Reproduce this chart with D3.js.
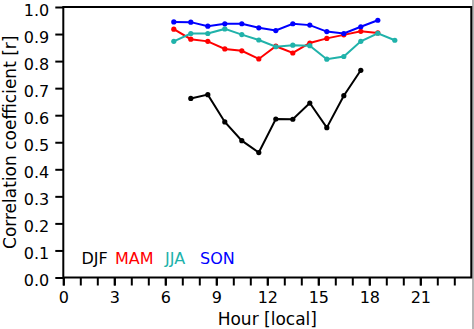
<!DOCTYPE html>
<html>
<head>
<meta charset="utf-8">
<script src="https://cdn.jsdelivr.net/npm/d3@7"></script>
<style>
  body { margin: 0; background: #fff; }
  text { font-family: "DejaVu Sans", sans-serif; }
</style>
</head>
<body>
<div class="vis-chart"></div>
<script>
// hours of day (local) for each season
const hoursDJF = [7.5, 8.5, 9.5, 10.5, 11.5, 12.5, 13.5, 14.5, 15.5, 16.5, 17.5];
const djf = [0.662, 0.676, 0.575, 0.506, 0.462, 0.586, 0.585, 0.645, 0.554, 0.672, 0.766];

const hoursMAM = [6.5, 7.5, 8.5, 9.5, 10.5, 11.5, 12.5, 13.5, 14.5, 15.5, 16.5, 17.5, 18.5];
const mam = [0.918, 0.881, 0.873, 0.845, 0.838, 0.808, 0.855, 0.830, 0.867, 0.884, 0.897, 0.910, 0.904];

const hoursJJA = [6.5, 7.5, 8.5, 9.5, 10.5, 11.5, 12.5, 13.5, 14.5, 15.5, 16.5, 17.5, 18.5, 19.5];
const jja = [0.873, 0.902, 0.902, 0.919, 0.898, 0.878, 0.853, 0.859, 0.857, 0.807, 0.817, 0.873, 0.903, 0.877];

const hoursSON = [6.5, 7.5, 8.5, 9.5, 10.5, 11.5, 12.5, 13.5, 14.5, 15.5, 16.5, 17.5, 18.5];
const son = [0.945, 0.944, 0.929, 0.938, 0.938, 0.923, 0.913, 0.938, 0.933, 0.909, 0.902, 0.927, 0.951];

const seasonNames = ["DJF", "MAM", "JJA", "SON"];
const seasonColors = ["#000000", "#ff0000", "#20b2aa", "#0000ff"];

const xTicks = [0, 3, 6, 9, 12, 15, 18, 21];
const yTicks = [0, 0.1, 0.2, 0.3, 0.4, 0.5, 0.6, 0.7, 0.8, 0.9, 1.0];

const width = 474, height = 329;
const margin = { top: 7, right: 2.7, bottom: 51.5, left: 63.3 };
const innerW = width - margin.left - margin.right;
const innerH = height - margin.top - margin.bottom;

const svg = d3.select(".vis-chart")
    .append("svg")
    .attr("width", width)
    .attr("height", height);

// thin grey strip at the right edge, as in the picture
svg.append("rect")
    .attr("x", width - 2).attr("y", 0)
    .attr("width", 2).attr("height", height)
    .attr("fill", "#b5b5b5");

const g = svg.append("g")
    .attr("transform", "translate(" + margin.left + "," + margin.top + ")");

const x = d3.scaleLinear().domain([0, 24]).range([0, innerW]);
const y = d3.scaleLinear().domain([0, 1]).range([innerH, 0]);

// minor hourly ticks
const xAxis = g.append("g")
    .attr("transform", "translate(0," + innerH + ")")
    .call(d3.axisBottom(x).tickValues(d3.range(0, 24)).tickSize(8).tickFormat(""));
xAxis.select(".domain").remove();
xAxis.selectAll("line").attr("stroke", "#000").attr("stroke-width", 2);

const xLabels = g.append("g")
    .attr("transform", "translate(0," + innerH + ")")
    .call(d3.axisBottom(x).tickValues(xTicks).tickSize(8).tickFormat(d3.format("d")));
xLabels.select(".domain").remove();
xLabels.selectAll("line").attr("stroke", "#000").attr("stroke-width", 2);
xLabels.selectAll("text")
    .attr("y", 303 - margin.top - innerH)
    .attr("dy", 0)
    .attr("font-size", 16).attr("fill", "#000")
    .style("font-family", "DejaVu Sans, sans-serif");

const yAxis = g.append("g")
    .call(d3.axisLeft(y).tickValues(yTicks).tickSize(8).tickPadding(6).tickFormat(d3.format(".1f")));
yAxis.select(".domain").remove();
yAxis.selectAll("line").attr("stroke", "#000").attr("stroke-width", 2);
yAxis.selectAll("text")
    .attr("dy", "0.5em")
    .attr("font-size", 16).attr("fill", "#000")
    .style("font-family", "DejaVu Sans, sans-serif");

// frame
g.append("rect")
    .attr("x", 0).attr("y", 0)
    .attr("width", innerW).attr("height", innerH)
    .attr("fill", "none")
    .attr("stroke", "#000")
    .attr("stroke-width", 2);

const series = [
    { hours: hoursDJF, values: djf },
    { hours: hoursMAM, values: mam },
    { hours: hoursJJA, values: jja },
    { hours: hoursSON, values: son }
];

const line = d3.line()
    .x(d => x(d[0]))
    .y(d => y(d[1]));

series.forEach((s, i) => {
    const pts = s.hours.map((h, j) => [h, s.values[j]]);
    g.append("path")
        .datum(pts)
        .attr("fill", "none")
        .attr("stroke", seasonColors[i])
        .attr("stroke-width", 2)
        .attr("d", line);
    g.selectAll(".pt" + i)
        .data(pts)
        .enter().append("circle")
        .attr("cx", d => x(d[0]))
        .attr("cy", d => y(d[1]))
        .attr("r", 2.6)
        .attr("fill", seasonColors[i]);
});

// legend as coloured words
const legendX = [81.5, 115, 165, 200];
seasonNames.forEach((name, i) => {
    svg.append("text")
        .attr("x", legendX[i])
        .attr("y", 264)
        .attr("font-size", 16)
        .attr("fill", seasonColors[i])
        .text(name);
});

svg.append("text")
    .attr("x", margin.left + innerW / 2)
    .attr("y", 325)
    .attr("text-anchor", "middle")
    .attr("font-size", 17)
    .text("Hour [local]");

svg.append("text")
    .attr("transform", "translate(16," + (margin.top + innerH / 2) + ") rotate(-90)")
    .attr("text-anchor", "middle")
    .attr("font-size", 17)
    .text("Correlation coefficient [r]");
</script>
</body>
</html>
